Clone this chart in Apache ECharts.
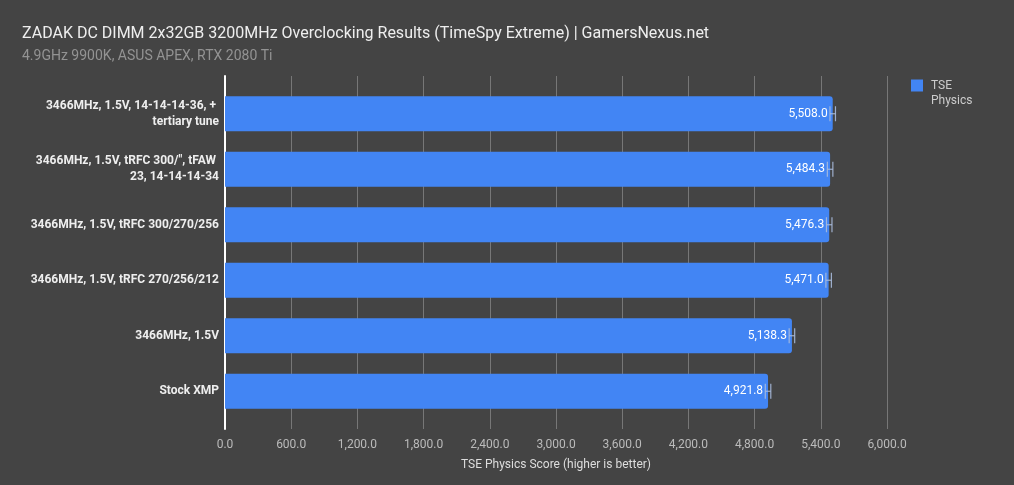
<!DOCTYPE html>
<html>
<head>
<meta charset="utf-8">
<script src="https://cdn.jsdelivr.net/npm/echarts@6/dist/echarts.min.js"></script>
<style>
html,body{margin:0;padding:0;background:#444444;}
#c{width:1014px;height:485px;}
</style>
</head>
<body>
<div id="c"></div>
<script>
const categories = [
  "3466MHz, 1.5V, 14-14-14-36, + tertiary tune",
  "3466MHz, 1.5V, tRFC 300/\", tFAW 23, 14-14-14-34",
  "3466MHz, 1.5V, tRFC 300/270/256",
  "3466MHz, 1.5V, tRFC 270/256/212",
  "3466MHz, 1.5V",
  "Stock XMP"
];
const scores = [5508.0, 5484.3, 5476.3, 5471.0, 5138.3, 4921.8];
const errors = [25, 25, 25, 25, 25, 25];
const xTicks = [0, 600, 1200, 1800, 2400, 3000, 3600, 4200, 4800, 5400, 6000];

const fmt = v => v.toLocaleString('en-US', {minimumFractionDigits: 1, maximumFractionDigits: 1});
const FONT = 'Roboto';

const chart = echarts.init(document.getElementById('c'));
chart.setOption({
  backgroundColor: '#444444',
  animation: false,
  textStyle: {fontFamily: FONT},
  title: {
    text: 'ZADAK DC DIMM 2x32GB 3200MHz Overclocking Results (TimeSpy Extreme) | GamersNexus.net',
    subtext: '4.9GHz 9900K, ASUS APEX, RTX 2080 Ti',
    left: 17, top: 21,
    itemGap: 7,
    textStyle: {color: '#eeeeee', fontSize: 16, fontWeight: 'normal', fontFamily: FONT},
    subtextStyle: {color: '#939393', fontSize: 14, fontFamily: FONT}
  },
  legend: {
    left: 906, top: 73,
    orient: 'vertical',
    itemWidth: 15, itemHeight: 27, itemGap: 6,
    icon: 'path://M0,0h12v12h-12z M15,27h0',
    data: ['TSE Physics'],
    formatter: () => 'TSE\nPhysics',
    textStyle: {color: '#cccccc', fontSize: 12, lineHeight: 15, fontFamily: FONT}
  },
  grid: [
    {left: 225, right: 127, top: 76, bottom: 56},
    {left: 225, right: 127, top: 86, bottom: 66}
  ],
  xAxis: [
    {
      gridIndex: 0, type: 'value', min: 0, max: 6000, interval: 600,
      axisLine: {show: false}, axisTick: {show: false},
      splitLine: {show: true, lineStyle: {color: '#777777', width: 1}},
      axisLabel: {color: '#bbbbbb', fontSize: 12, margin: 10, formatter: v => fmt(v)},
      name: 'TSE Physics Score (higher is better)',
      nameLocation: 'middle', nameGap: 30,
      nameTextStyle: {color: '#dddddd', fontSize: 12, fontFamily: FONT}
    },
    {
      gridIndex: 1, type: 'value', min: 0, max: 6000, interval: 600,
      show: false
    }
  ],
  yAxis: [
    {
      gridIndex: 0, type: 'category', data: categories, inverse: true,
      axisLine: {show: true, lineStyle: {color: '#ffffff', width: 2}},
      axisTick: {show: false}, axisLabel: {show: false}, splitLine: {show: false}
    },
    {
      gridIndex: 1, type: 'category', data: categories, inverse: true,
      axisLine: {show: false}, axisTick: {show: false},
      axisLabel: {
        color: '#eeeeee', fontSize: 12, fontWeight: 'bold', fontFamily: FONT,
        width: 190, overflow: 'break', lineHeight: 16, margin: 6, align: 'right'
      }
    }
  ],
  series: [
    {
      name: 'TSE Physics', type: 'bar', xAxisIndex: 1, yAxisIndex: 1,
      data: scores, barWidth: 35,
      itemStyle: {color: '#4285f4', borderRadius: [0, 3, 3, 0]},
      label: {
        show: true, position: 'insideRight', distance: 5,
        color: '#ffffff', fontSize: 12, fontFamily: FONT,
        formatter: p => fmt(p.value)
      }
    },
    {
      name: 'err', type: 'custom', xAxisIndex: 1, yAxisIndex: 1,
      data: scores.map((v, i) => [i, v - errors[i], v + errors[i]]),
      encode: {y: 0, x: [1, 2]},
      z: 5,
      renderItem: function (params, api) {
        const yi = api.value(0);
        const lo = api.coord([api.value(1), yi]);
        const hi = api.coord([api.value(2), yi]);
        const h = 7.5;
        const style = {stroke: '#a9bbdd', lineWidth: 1.2, opacity: 0.9};
        return {
          type: 'group',
          children: [
            {type: 'line', shape: {x1: lo[0], y1: lo[1] - h, x2: lo[0], y2: lo[1] + h}, style},
            {type: 'line', shape: {x1: hi[0], y1: hi[1] - h, x2: hi[0], y2: hi[1] + h}, style},
            {type: 'line', shape: {x1: lo[0], y1: lo[1], x2: hi[0], y2: hi[1]}, style}
          ]
        };
      }
    }
  ]
});
</script>
</body>
</html>
